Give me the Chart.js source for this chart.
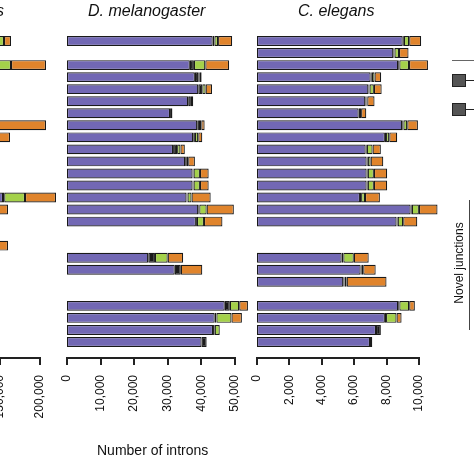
<!DOCTYPE html>
<html><head><meta charset="utf-8">
<script src="https://cdn.jsdelivr.net/npm/chart.js@4.4.0/dist/chart.umd.min.js"></script>
<style>
body{margin:0;width:474px;height:474px;overflow:hidden;background:#fff;font-family:"Liberation Sans",Arial,sans-serif;position:relative}
canvas{position:absolute;top:0}
.t{position:absolute;font-style:italic;font-size:16px;color:#111;white-space:nowrap}
.ax{position:absolute;background:#222;z-index:5}
</style></head><body>
<canvas id="cL" style="left:-130px"></canvas>
<canvas id="cM" style="left:57px"></canvas>
<canvas id="cR" style="left:247px"></canvas>
<div class="t" style="left:-4px;top:2px">s</div>
<div class="t" style="left:88px;top:2px">D. melanogaster</div>
<div class="t" style="left:298px;top:2px">C. elegans</div>
<div style="position:absolute;left:97px;top:442px;font-size:14px;color:#111">Number of introns</div>
<div style="position:absolute;left:452px;top:60px;width:30px;height:1px;background:#666"></div>
<div style="position:absolute;left:452px;top:74px;width:12px;height:11px;background:#555;border:1px solid #222"></div>
<div style="position:absolute;left:465px;top:80px;width:10px;height:1px;background:#222"></div>
<div style="position:absolute;left:452px;top:103px;width:12px;height:11px;background:#555;border:1px solid #222"></div>
<div style="position:absolute;left:465px;top:109px;width:10px;height:1px;background:#222"></div>
<div style="position:absolute;left:469px;top:200px;width:1px;height:130px;background:#444"></div>
<div style="position:absolute;left:409px;top:256px;width:100px;transform:rotate(-90deg);font-size:12px;color:#111;text-align:center">Novel junctions</div>
<script>
const rows = Array.from({length:26},(_,i)=>String(i));
// D. melanogaster
const purpleM=[43400,null,36600,38100,39100,36100,30700,38800,37600,31600,35200,37400,37400,35600,39100,38400,null,null,24200,32100,null,null,47000,44000,43500,40100];
const blackM=[500,null,1200,1000,1200,800,700,500,500,1200,300,300,300,300,300,300,null,null,2000,1800,null,null,1500,500,500,1500];
const greenM=[1100,null,3400,300,1000,0,0,700,1000,1000,600,1900,1900,1200,2200,2100,null,null,3800,0,null,null,2800,4500,1500,0];
const orangeM=[4200,null,7100,700,1900,700,0,1000,1200,1300,2000,2600,2600,5700,8100,5500,null,null,4600,6400,null,null,2600,3100,0,0];
// C. elegans
const purpleR=[9000,8420,8720,7020,6880,6690,6280,8970,7900,6710,6770,6770,6770,6360,9490,8620,null,null,5230,6400,5330,null,8720,7900,7350,6980];
const blackR=[70,70,70,70,70,70,150,70,70,70,70,70,70,70,70,70,null,null,100,70,70,null,70,70,300,140];
const greenR=[330,280,600,170,270,50,0,240,200,360,180,380,380,240,440,340,null,null,650,90,140,null,610,650,0,0];
const orangeR=[740,590,1170,410,480,450,320,660,490,510,780,820,820,920,1150,870,null,null,920,770,2460,null,350,310,0,0];
// left (cropped) panel
const purpleL=[140000,null,140000,null,null,null,null,140000,140000,null,null,null,null,153750,140000,null,null,140000,null,null,null,null,null,null,null,null];
const blackL=[1000,null,1000,null,null,null,null,1000,1000,null,null,null,null,1500,1000,null,null,1000,null,null,null,null,null,null,null,null];
const greenL=[14000,null,22750,null,null,null,null,5000,5000,null,null,null,null,26000,5000,null,null,5000,null,null,null,null,null,null,null,null];
const orangeL=[8750,null,43750,null,null,null,null,61500,16500,null,null,null,null,38750,14000,null,null,14000,null,null,null,null,null,null,null,null];
const ticksM=[0,10000,20000,30000,40000,50000];
const ticksR=[0,2000,4000,6000,8000,10000];
const ticksL=[0,50000,100000,150000,200000];

function addDiv(l,t,w,h){const d=document.createElement('div');d.className='ax';d.style.left=l+'px';d.style.top=t+'px';d.style.width=w+'px';d.style.height=h+'px';document.body.appendChild(d);}
function axisDivs(ch,off,t){const x=ch.scales.x;const y=Math.round(ch.chartArea.bottom)+9;
  const a=Math.round(x.getPixelForValue(t[0]))+off,b=Math.round(x.getPixelForValue(t[t.length-1]))+off;
  addDiv(a-1,y,b-a+2,2);t.forEach(v=>addDiv(Math.round(x.getPixelForValue(v))+off-1,y,2,8));}

function make(id,off,width,max,p,b,g,o,ticks){
  const cv=document.getElementById(id);cv.width=width;cv.height=474;cv.style.width=width+'px';cv.style.height='474px';
  const ds=(d,c)=>({data:d,backgroundColor:c,borderColor:'#1a1a1a',borderWidth:1.2,borderSkipped:false,barPercentage:0.82,categoryPercentage:1});
  const ch=new Chart(cv,{type:'bar',data:{labels:rows,datasets:[ds(p,'#7268b4'),ds(b,'#1a1a1a'),ds(g,'#a4d14a'),ds(o,'#e0842c')]},
  options:{indexAxis:'y',responsive:false,animation:false,devicePixelRatio:1,
    layout:{padding:{top:35,left:10,right:0,bottom:0},autoPadding:false},
    plugins:{legend:{display:false},tooltip:{enabled:false}},
    scales:{
      y:{display:false,stacked:true},
      x:{stacked:true,min:0,max:max,afterFit(s){s.height=126;s.paddingLeft=0;s.paddingRight=0;},
        afterBuildTicks(s){s.ticks=ticks.map(v=>({value:v}));},
        grid:{display:false},border:{display:false},
        ticks:{autoSkip:false,minRotation:90,maxRotation:90,padding:19,color:'#111',font:{family:'Liberation Sans',size:12},
          callback:v=>v.toLocaleString('en-US')}}
    }}});
  axisDivs(ch,off,ticks);
}
make('cL',-130,190,225000,purpleL,blackL,greenL,orangeL,ticksL);
make('cM',57,198,56000,purpleM,blackM,greenM,orangeM,ticksM);
make('cR',247,197,11550,purpleR,blackR,greenR,orangeR,ticksR);
</script></body></html>
